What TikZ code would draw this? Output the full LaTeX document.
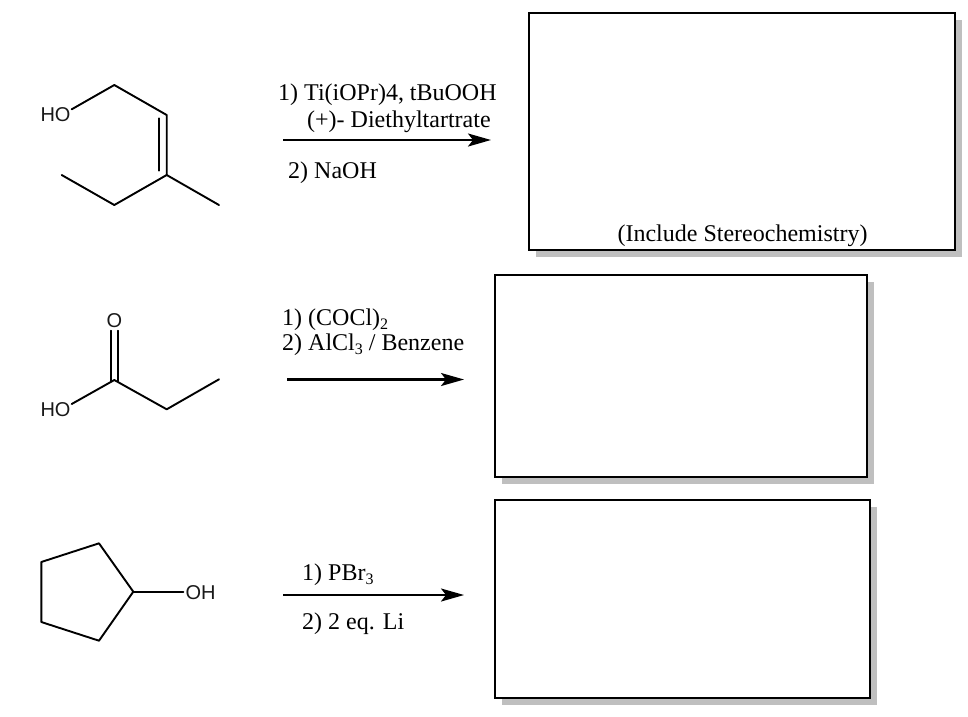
\documentclass[tikz,border=0pt]{standalone}
\usepackage{fontspec}
\setmainfont{Liberation Serif}
\newfontfamily\atomfont{Liberation Sans}
\usetikzlibrary{arrows.meta}
\definecolor{shade}{gray}{0.75}
\tikzset{
  x=1pt,y=-1pt,
  bond/.style={line width=1.9pt,line cap=round,line join=round},
  atom/.style={font=\atomfont\fontsize{20}{20}\selectfont,inner sep=0pt,text=black!90},
  reagent/.style={font=\fontsize{24}{24}\selectfont,inner sep=0pt,anchor=base west},
  rxn/.style={line width=2.3pt,-{Stealth[length=23pt,width=13pt,inset=5pt]}},
  answer/.style={draw=black,line width=2.2pt,fill=white,inner sep=0pt,anchor=north west},
  shadowbox/.style={fill=shade,draw=none,inner sep=0pt,anchor=north west}
}
\newcommand{\lowered}[1]{\raisebox{-4pt}[0pt][0pt]{\fontsize{16}{16}\selectfont #1}}
\newcommand{\ansbox}[5]{%
  \node[shadowbox,minimum width=#4,minimum height=#5] (#1s) at (#2+8,#3+8) {};
  \node[answer,minimum width=#4,minimum height=#5] (#1) at (#2,#3) {};
}
\begin{document}
\begin{tikzpicture}
\useasboundingbox (0,0) rectangle (968,716);
% molecule 1
\node[atom] (ho1) at (55.5,115) {HO};
\coordinate (a1) at (114.3,85);
\coordinate (a2) at (166.7,115);
\coordinate (a3) at (166.7,175);
\coordinate (a4) at (219,205);
\coordinate (a5) at (114.3,205);
\coordinate (a6) at (61.7,175);
\coordinate (a0) at (71.7,109.3);
\coordinate (d1) at (159,118.3);
\coordinate (d2) at (159,170.7);
\draw[bond] (a0) -- (a1) -- (a2) -- (a3) -- (a5) -- (a6);
\draw[bond] (a3) -- (a4);
\draw[bond] (d1) -- (d2);
% molecule 2
\node[atom] (ho2) at (55.5,410) {HO};
\node[atom] (o2) at (114.3,320.5) {O};
\coordinate (b0) at (71.7,404);
\coordinate (b1) at (114.3,380);
\coordinate (b2) at (166.7,409.3);
\coordinate (b3) at (219,379.3);
\coordinate (c1) at (110.6,330.7);
\coordinate (c2) at (110.6,381.5);
\coordinate (c3) at (118.2,330.7);
\coordinate (c4) at (118.2,381.5);
\draw[bond] (b0) -- (b1) -- (b2) -- (b3);
\draw[bond] (c1) -- (c2);
\draw[bond] (c3) -- (c4);
% molecule 3
\node[atom] (oh3) at (200.5,593) {OH};
\coordinate (r1) at (133.3,591.7);
\coordinate (r2) at (99,543.3);
\coordinate (r3) at (41.3,562);
\coordinate (r4) at (41.3,622);
\coordinate (r5) at (99,640.7);
\coordinate (r6) at (183.3,591.7);
\draw[bond] (r1) -- (r2) -- (r3) -- (r4) -- (r5) -- cycle;
\draw[bond] (r1) -- (r6);
% arrows
\coordinate (s1) at (283,140); \coordinate (e1) at (491,140);
\coordinate (s2) at (287,379.5); \coordinate (e2) at (464,379.5);
\coordinate (s3) at (283,595); \coordinate (e3) at (464,595);
\draw[rxn] (s1) -- (e1);
\draw[rxn] (s2) -- (e2);
\draw[rxn] (s3) -- (e3);
% reagents
\node[reagent] (t1) at (278,100) {1) Ti(iOPr)4, tBuOOH};
\node[reagent] (t2) at (307,127) {(+)- Diethyltartrate};
\node[reagent] (t3) at (288,178) {2) NaOH};
\node[reagent] (t4) at (282,325) {1) (COCl)\lowered{2}};
\node[reagent] (t5) at (282,350) {2) AlCl\lowered{3} / Benzene};
\node[reagent] (t6) at (302,580) {1) PBr\lowered{3}};
\node[reagent] (t7) at (302,629) {2) 2 eq. Li};
% boxes
\ansbox{box1}{528}{12}{426}{237}
\ansbox{box2}{493.5}{274}{372.5}{202}
\ansbox{box3}{494}{499}{375}{198}
\node[reagent,anchor=base] (inc) at (742.5,241) {(Include Stereochemistry)};
\end{tikzpicture}
\end{document}
